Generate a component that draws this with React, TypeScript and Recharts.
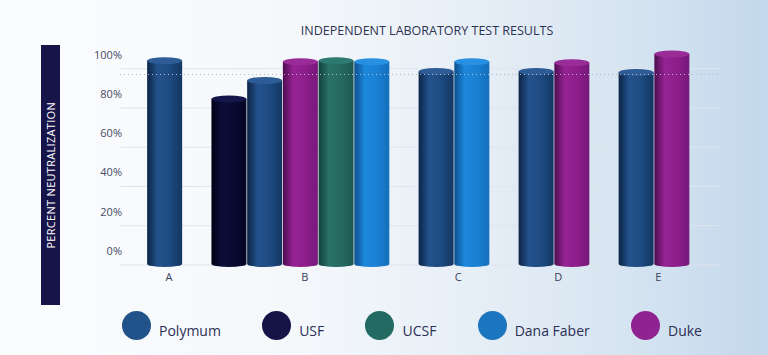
import React from 'react';
import { BarChart, Bar, XAxis, YAxis, CartesianGrid, ReferenceLine } from 'recharts';

const categories = ['A', 'B', 'C', 'D', 'E'];
const seriesNames = ['Polymum', 'USF', 'UCSF', 'Dana Faber', 'Duke'];
// percent neutralization per lab, one slot per category (null = not tested there)
const polymum = [104, 94, 98.5, 98.5, 98];
const usf = [null, 84.5, null, null, null];
const ucsf = [null, 104, null, null, null];
const danaFaber = [null, 103.5, 103.5, null, null];
const duke = [null, 103.5, null, 103, 107.5];
const yTicks = [0, 20, 40, 60, 80, 100];
const benchmark = 97;

const valuesBySeries: Record<string, (number | null)[]> = {
  Polymum: polymum,
  USF: usf,
  UCSF: ucsf,
  'Dana Faber': danaFaber,
  Duke: duke,
};

// order the cylinders are stood inside a group
const barOrder = ['USF', 'Polymum', 'Duke', 'UCSF', 'Dana Faber'];

// [dark edge, highlight, body, right edge, top cap, legend dot]
const palette: Record<string, string[]> = {
  Polymum: ['#0b2446', '#24528c', '#1d4a80', '#143764', '#2d5c96', '#22528a'],
  USF: ['#010114', '#0c0e3a', '#090a30', '#050622', '#14164a', '#161447'],
  UCSF: ['#13423d', '#2a7268', '#256960', '#1c5750', '#2f7a70', '#236a62'],
  'Dana Faber': ['#0d4f8c', '#1c88dc', '#1a80d1', '#136fbb', '#2790e0', '#1c75bf'],
  Duke: ['#4e0d50', '#962393', '#8d1e8b', '#76187a', '#9a2c98', '#8f2490'],
};

const Y_MAX = 110;
const X_MAX = 16.77;
const LEFT_PAD = 0.76;
const GROUP_GAP = 0.8;

const rows: { x: number; value: number; series: string; category: string }[] = [];
const groupCenters: number[] = [];
let cursor = LEFT_PAD;
categories.forEach((cat, ci) => {
  const start = cursor;
  barOrder.forEach((name) => {
    const v = valuesBySeries[name][ci];
    if (v != null) {
      rows.push({ x: cursor + 0.5, value: v, series: name, category: cat });
      cursor += 1;
    }
  });
  groupCenters.push((start + cursor) / 2);
  cursor += GROUP_GAP;
});

const gradId = (name: string) => 'cyl-' + name.replace(/\s+/g, '');

const Cylinder = (props: any) => {
  const { x, y, width, height, payload } = props;
  if (!height || height <= 0) return null;
  const c = palette[payload.series];
  const rx = width / 2;
  const bottom = y + height - 1;
  return (
    <g>
      <path
        d={`M${x},${y} L${x},${bottom} A${rx},3 0 0 0 ${x + width},${bottom} L${x + width},${y} Z`}
        fill={`url(#${gradId(payload.series)})`}
      />
      <ellipse cx={x + rx} cy={y} rx={rx} ry={3.5} fill={c[4]} />
    </g>
  );
};

const YTick = (props: any) => {
  const { x, y, payload } = props;
  return (
    <text x={x + 2} y={y - 14} dy="0.355em" textAnchor="end" fill="#474b66" fontSize={11}>
      {payload.value}%
    </text>
  );
};

// only draw grid lines at the labelled ticks, not at the top edge of the plot
const gridRows = ({ offset }: any) =>
  yTicks.map((t) => offset.top + offset.height * (1 - t / Y_MAX));

const font = '"Open Sans", "Noto Sans", sans-serif';

export default function App() {
  return (
    <div
      style={{
        position: 'absolute',
        left: 0,
        top: 0,
        width: 768,
        height: 355,
        overflow: 'hidden',
        fontFamily: font,
        background: 'linear-gradient(90deg, #fbfcfe 0%, #f5f8fb 38%, #e6eef6 62%, #d6e4f1 82%, #c3d8ec 100%)',
      }}
    >
      <div
        style={{
          position: 'absolute',
          top: 22,
          left: 227,
          width: 400,
          textAlign: 'center',
          fontSize: 12.5,
          color: '#2e3352',
          lineHeight: '18px',
        }}
      >
        INDEPENDENT LABORATORY TEST RESULTS
      </div>

      <div
        style={{
          position: 'absolute',
          left: 41,
          top: 45,
          width: 19,
          height: 260,
          background: '#17144a',
          display: 'flex',
          alignItems: 'center',
          justifyContent: 'center',
        }}
      >
        <div
          style={{
            writingMode: 'vertical-rl',
            transform: 'rotate(180deg)',
            color: '#ffffff',
            fontSize: 11,
            letterSpacing: 0.3,
            whiteSpace: 'nowrap',
          }}
        >
          PERCENT NEUTRALIZATION
        </div>
      </div>

      <div style={{ position: 'absolute', left: 0, top: 0 }}>
        <BarChart
          width={768}
          height={355}
          data={rows}
          margin={{ top: 49, right: 49, bottom: 0, left: 62 }}
          style={{ fontFamily: font }}
        >
          <defs>
            {seriesNames.map((name) => {
              const c = palette[name];
              return (
                <linearGradient key={name} id={gradId(name)} x1="0" y1="0" x2="1" y2="0">
                  <stop offset="0%" stopColor={c[0]} />
                  <stop offset="30%" stopColor={c[1]} />
                  <stop offset="65%" stopColor={c[2]} />
                  <stop offset="100%" stopColor={c[3]} />
                </linearGradient>
              );
            })}
          </defs>
          <CartesianGrid
            vertical={false}
            stroke="#dfe5ee"
            strokeWidth={1}
            horizontalCoordinatesGenerator={gridRows}
          />
          <XAxis
            type="number"
            dataKey="x"
            domain={[0, X_MAX]}
            ticks={groupCenters}
            interval={0}
            tickFormatter={(_v: number, i: number) => categories[i]}
            axisLine={false}
            tickLine={false}
            tickSize={0}
            tickMargin={8}
            height={90}
            tick={{ fill: '#3a3f5c', fontSize: 11, dx: 4 }}
          />
          <YAxis
            domain={[0, Y_MAX]}
            ticks={yTicks}
            interval={0}
            width={58}
            axisLine={false}
            tickLine={false}
            tickSize={0}
            tickMargin={0}
            tick={<YTick />}
          />
          <ReferenceLine y={benchmark} stroke="#b3bbc7" strokeDasharray="1 3" strokeWidth={1} />
          <Bar dataKey="value" barSize={35} shape={<Cylinder />} isAnimationActive={false} />
        </BarChart>
      </div>

      <div
        style={{
          position: 'absolute',
          left: 122,
          top: 311,
          width: 580,
          display: 'flex',
          justifyContent: 'space-between',
          alignItems: 'flex-end',
        }}
      >
        {seriesNames.map((name) => (
          <div key={name} style={{ display: 'flex', alignItems: 'flex-end' }}>
            <div
              style={{
                width: 29,
                height: 29,
                borderRadius: '50%',
                background: palette[name][5],
                marginRight: 8,
              }}
            />
            <span style={{ fontSize: 14, color: '#2b2f55', lineHeight: '19px' }}>{name}</span>
          </div>
        ))}
      </div>
    </div>
  );
}
